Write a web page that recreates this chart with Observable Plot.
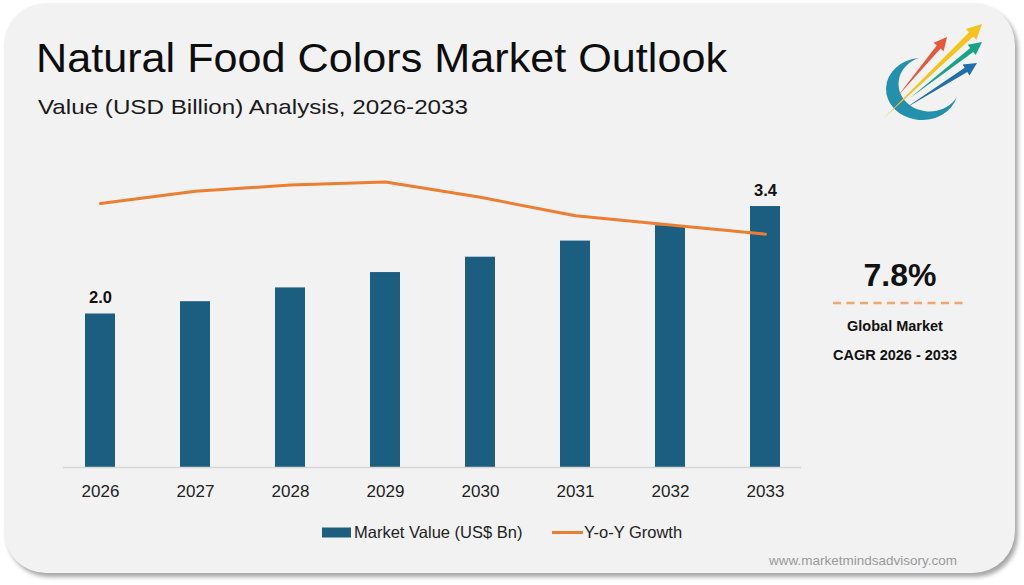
<!DOCTYPE html>
<html>
<head>
<meta charset="utf-8">
<script src="https://cdn.jsdelivr.net/npm/d3@7"></script>
<script src="https://cdn.jsdelivr.net/npm/@observablehq/plot@0.6"></script>
<style>
  html, body { margin: 0; padding: 0; background: #ffffff; }
  #stage { position: relative; width: 1024px; height: 585px; overflow: hidden;
           font-family: "Liberation Sans", Arial, sans-serif; }
  #card { position: absolute; left: 4px; top: 3px; width: 1011px; height: 570px;
          background: #f2f2f2; border-radius: 42px;
          box-shadow: 3px 4px 4px rgba(0, 0, 0, 0.35); }
  #decor { position: absolute; left: 0; top: 0; }
  #chart { position: absolute; left: 0; top: 140px; width: 830px; height: 370px; }
  #chart svg { position: absolute; left: 0; top: 0; }
</style>
</head>
<body>
<div id="stage">
  <div id="card"></div>
  <svg id="decor" width="1024" height="585"></svg>
  <div id="chart"></div>
</div>
<script>
// ---- data ----
const years = ["2026", "2027", "2028", "2029", "2030", "2031", "2032", "2033"];
const marketValue = [2.0, 2.16, 2.34, 2.54, 2.74, 2.95, 3.15, 3.4];   // US$ Bn
const yoyGrowth = [8.6, 9.0, 9.2, 9.3, 8.8, 8.2, 7.9, 7.6];           // %
const labeledYears = ["2026", "2033"];
const seriesNames = ["Market Value (US$ Bn)", "Y-o-Y Growth"];
const seriesColors = ["#1b5e7f", "#ed7d31"];
const cagrValue = "7.8%";
const cagrLines = ["Global Market", "CAGR 2026 - 2033"];
const titleText = "Natural Food Colors Market Outlook";
const subtitleText = "Value (USD Billion) Analysis, 2026-2033";
const sourceText = "www.marketmindsadvisory.com";

const rows = years.map((year, i) => ({ year, value: marketValue[i], growth: yoyGrowth[i] }));

// ---- chart: bars and growth line share the x band scale, each with its own y ----
const shared = {
  width: 830, height: 370,
  marginLeft: 63, marginRight: 29, marginTop: 20, marginBottom: 43,
  style: { background: "transparent", overflow: "visible",
           fontFamily: "'Liberation Sans', Arial, sans-serif" }
};
const xOpts = { type: "band", domain: years, paddingInner: 0.685, paddingOuter: 0.22 };

const barPlot = Plot.plot({
  ...shared,
  x: { ...xOpts },
  y: { domain: [0, 4], axis: null },
  marks: [
    Plot.barY(rows, { x: "year", y: "value", fill: seriesColors[0] }),
    Plot.ruleY([0], { stroke: "#d6d6d6", strokeWidth: 1.5 }),
    Plot.text(rows.filter(d => labeledYears.includes(d.year)), {
      x: "year", y: "value", text: d => d.value.toFixed(1),
      lineAnchor: "bottom", dy: -11, fontSize: 16.5, fontWeight: "bold", fill: "#111"
    }),
    Plot.axisX({ tickSize: 0, tickPadding: 17, fontSize: 17, color: "#222", label: null })
  ]
});

const linePlot = Plot.plot({
  ...shared,
  x: { ...xOpts, axis: null },
  y: { domain: [0, 10], axis: null },
  marks: [
    Plot.lineY(rows, { x: "year", y: "growth", stroke: seriesColors[1], strokeWidth: 3 })
  ]
});

const chart = document.getElementById("chart");
chart.append(barPlot, linePlot);

// ---- titles, CAGR panel, legend, source, logo ----
const svg = d3.select("#decor");
const font = "'Liberation Sans', Arial, sans-serif";

svg.append("text").attr("x", 36).attr("y", 72)
  .attr("font-family", font).attr("font-size", 41).attr("fill", "#0d0d0d")
  .attr("textLength", 691).attr("lengthAdjust", "spacingAndGlyphs")
  .text(titleText);

svg.append("text").attr("x", 38).attr("y", 114)
  .attr("font-family", font).attr("font-size", 21).attr("fill", "#1a1a1a")
  .attr("textLength", 430).attr("lengthAdjust", "spacingAndGlyphs")
  .text(subtitleText);

// CAGR panel
svg.append("text").attr("x", 900).attr("y", 286).attr("text-anchor", "middle")
  .attr("font-family", font).attr("font-size", 32).attr("font-weight", "bold").attr("fill", "#111")
  .text(cagrValue);
svg.append("line").attr("x1", 833).attr("x2", 968).attr("y1", 303).attr("y2", 303)
  .attr("stroke", "#f2a56e").attr("stroke-width", 2.5).attr("stroke-dasharray", "8 5.5");
cagrLines.forEach((t, i) => {
  svg.append("text").attr("x", 895).attr("y", 331 + i * 29).attr("text-anchor", "middle")
    .attr("font-family", font).attr("font-size", 14.5).attr("font-weight", "bold").attr("fill", "#111")
    .text(t);
});

// legend
const lg = svg.append("g").attr("font-family", font).attr("font-size", 16.5).attr("fill", "#222");
lg.append("rect").attr("x", 322).attr("y", 527.5).attr("width", 29).attr("height", 10)
  .attr("fill", seriesColors[0]);
lg.append("text").attr("x", 354).attr("y", 537.5).text(seriesNames[0]);
lg.append("line").attr("x1", 552).attr("x2", 583).attr("y1", 532.5).attr("y2", 532.5)
  .attr("stroke", seriesColors[1]).attr("stroke-width", 3);
lg.append("text").attr("x", 584).attr("y", 537.5).text(seriesNames[1]);

// source
svg.append("text").attr("x", 769).attr("y", 565)
  .attr("font-family", font).attr("font-size", 13.5).attr("fill", "#9a9a9a")
  .text(sourceText);

// logo: swoosh ring with four rising arrows
const logo = svg.append("g");
logo.append("path")
  .attr("d", "M918.9,58.1 A36,31 0 1 0 956.8,97 A31,27.5 0 1 1 918.9,58.1 Z")
  .attr("fill", "#2390ae");
function arrow(tx, ty, hx, hy, shaftW, headL, headW) {
  const len = Math.hypot(hx - tx, hy - ty);
  const ux = (hx - tx) / len, uy = (hy - ty) / len;
  const nx = -uy, ny = ux;
  const bx = hx - ux * headL, by = hy - uy * headL;
  const p = [
    [tx, ty],
    [bx + nx * shaftW / 2, by + ny * shaftW / 2],
    [bx + nx * headW / 2, by + ny * headW / 2],
    [hx, hy],
    [bx - nx * headW / 2, by - ny * headW / 2],
    [bx - nx * shaftW / 2, by - ny * shaftW / 2]
  ];
  return "M" + p.map(q => q.join(",")).join("L") + "Z";
}
logo.append("path").attr("d", arrow(897, 97, 947, 37, 5, 13, 13)).attr("fill", "#e9573a");
logo.append("path").attr("d", arrow(883, 119, 982, 24, 6, 15, 15)).attr("fill", "#f6c21c");
logo.append("path").attr("d", arrow(910, 98, 982, 42, 5, 13, 13)).attr("fill", "#17a386");
logo.append("path").attr("d", arrow(904, 109, 977, 63, 5, 13, 13)).attr("fill", "#1f6fae");
</script>
</body>
</html>
